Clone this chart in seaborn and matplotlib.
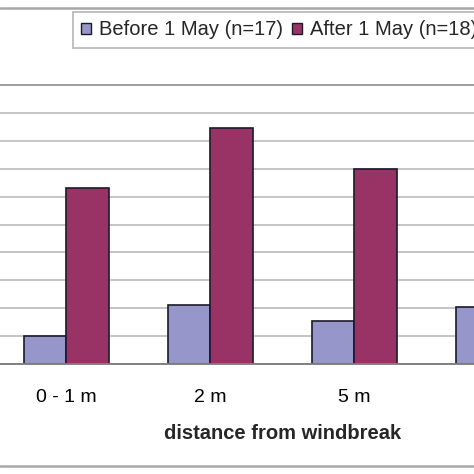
import matplotlib
matplotlib.use("Agg")
import matplotlib.pyplot as plt
from matplotlib.lines import Line2D
import seaborn as sns
import pandas as pd

categories = ["0 - 1 m", "2 m", "5 m", "10 m"]
series_names = ["Before 1 May (n=17)", "After 1 May (n=18)"]
before_vals = [1.0, 2.1, 1.55, 2.05]
after_vals = [6.3, 8.45, 7.0, 6.5]
y_ticks = list(range(0, 11))

rows = []
for c, b, a in zip(categories, before_vals, after_vals):
    rows.append({"distance": c, "period": series_names[0], "value": b})
    rows.append({"distance": c, "period": series_names[1], "value": a})
df = pd.DataFrame(rows)

sns.set_theme(style="white")
plt.rcParams["font.family"] = ["Liberation Sans", "DejaVu Sans"]

W = H = 474
fig = plt.figure(figsize=(4.74, 4.74), dpi=100)
left_px, right_px = -5.6, 570.0
top_px, bottom_px = 85.0, 364.0
ax = fig.add_axes([left_px / W, 1 - bottom_px / H, (right_px - left_px) / W, (bottom_px - top_px) / H])

sns.barplot(data=df, x="distance", y="value", hue="period", order=categories,
            hue_order=series_names, palette=["#9696CA", "#993366"],
            width=0.59, gap=0, edgecolor="#1a1a2a", linewidth=1.2, ax=ax,
            errorbar=None, saturation=1)

ax.set_xlim(-0.5, len(categories) - 0.5)
ax.set_ylim(0, 10)
ax.set_yticks(y_ticks)
ax.yaxis.grid(True, color="#C4C4C4", linewidth=1.4)
ax.set_axisbelow(True)
for s in ["left", "right"]:
    ax.spines[s].set_visible(False)
ax.spines["top"].set_color("#A0A0A0")
ax.spines["top"].set_linewidth(1.4)
ax.spines["bottom"].set_color("#808080")
ax.spines["bottom"].set_linewidth(1.4)

ax.tick_params(axis="x", which="major", length=0, pad=18, labelsize=14, labelcolor="black")
ax.set_xticks([i + 0.5 for i in range(len(categories) - 1)], minor=True)
ax.tick_params(axis="x", which="minor", length=5, color="#B0B0B0", width=1)
ax.tick_params(axis="y", length=0, labelleft=False)
# the last category's label lies outside the visible frame
ax.get_xticklabels()[-1].set_visible(False)

ax.set_xlabel("distance from windbreak", fontsize=14.5, fontweight="bold", labelpad=13)
ax.set_ylabel("")

ax.get_legend().remove()
handles = [plt.Rectangle((0, 0), 1, 1, facecolor=c, edgecolor="#1a1a2a", linewidth=1.0)
           for c in ["#9696CA", "#993366"]]
leg = fig.legend(handles, series_names, loc="upper left",
                 bbox_to_anchor=(73 / W, 1 - 12 / H), ncol=2, frameon=True,
                 fancybox=False, fontsize=14.5, handlelength=0.48, handleheight=0.48,
                 handletextpad=0.4, columnspacing=0.45, borderpad=0.42,
                 borderaxespad=0)
leg.get_frame().set_edgecolor("#B0B0B0")
leg.get_frame().set_linewidth(1.4)

for ypx in (7.5, 465.5):
    fig.add_artist(Line2D([0, 1], [1 - ypx / H, 1 - ypx / H], transform=fig.transFigure,
                          color="#A8A8A8", linewidth=1.8))

fig.savefig("out.png", dpi=100)
